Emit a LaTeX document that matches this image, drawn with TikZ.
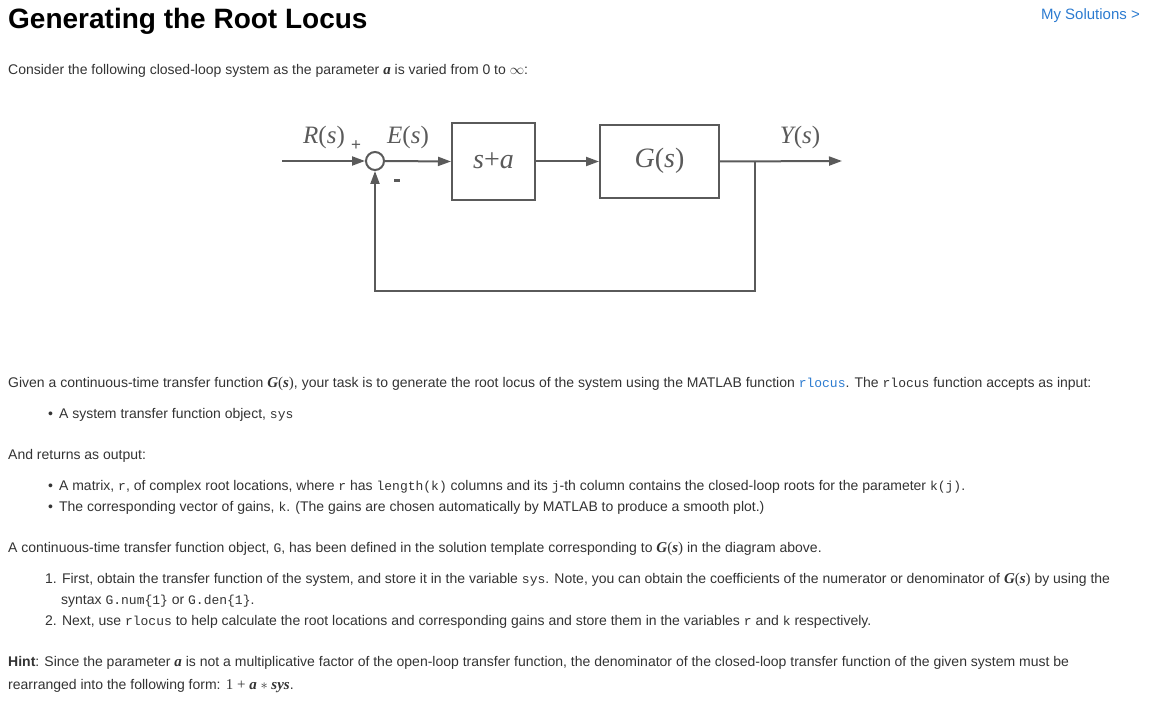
\documentclass[tikz,border=0pt]{standalone}
\usepackage{fontspec}
\setmainfont{Liberation Sans}
\setmonofont{Liberation Mono}
\newfontfamily\serf{Liberation Serif}
\usetikzlibrary{arrows.meta}
\definecolor{txt}{HTML}{333333}
\definecolor{dg}{HTML}{5A5A5A}
\definecolor{lnk}{HTML}{2C7BD0}
\newcommand{\cd}[1]{{\fontsize{13}{15}\ttfamily #1}}
\newcommand{\bl}[1]{{\fontsize{13}{15}\ttfamily\color{lnk}#1}}
\newcommand{\mi}[1]{{\fontsize{15}{16}\serf\itshape\bfseries #1}}
\newcommand{\mr}[1]{{\fontsize{15}{16}\serf #1}}
\begin{document}
\begin{tikzpicture}[x=1pt,y=-1pt,
  body/.style={anchor=west,inner sep=0pt,text=txt,font=\fontsize{14}{16}\selectfont},
  blk/.style={draw=dg,line width=2pt,inner sep=0pt},
  wire/.style={draw=dg,line width=2pt},
  arr/.style={wire,-{Triangle[length=13pt,width=9pt]}},
  dlab/.style={inner sep=0pt,text=dg,font=\fontsize{26}{28}\serf}]
\useasboundingbox (0,0) rectangle (1165,706);
\node[body,font=\fontsize{28}{32}\bfseries,text=black] (title) at (8,21) {Generating the Root Locus};
\node[anchor=east,inner sep=0pt,text=lnk,font=\fontsize{15}{17}\selectfont] (mysol) at (1140,16) {My Solutions \textgreater};
\node[body] (t1) at (8,71) {Consider the following closed-loop system as the parameter \mi{a} is varied from 0 to $\infty$:};
% diagram
\node[circle,draw=dg,line width=2pt,minimum size=18pt,inner sep=0pt] (sum) at (375,161) {};
\node[blk,minimum width=83pt,minimum height=77pt] (b1) at (493.5,161.5) {};
\node[dlab,font=\fontsize{28}{30}\serf\itshape] (b1t) at (493.5,161) {s\upshape+\itshape a};
\node[blk,minimum width=119pt,minimum height=73pt] (b2) at (659.5,161.5) {};
\node[dlab,font=\fontsize{28}{30}\serf\itshape] (b2t) at (659.5,161) {G\upshape(\itshape s\upshape)};
\coordinate (in) at (282,161);
\coordinate (br) at (755,161);
\coordinate (out) at (842,161);
\coordinate (fb1) at (755,291);
\coordinate (fb2) at (375,291);
\draw[arr] (in) -- (sum.west);
\draw[arr] (sum.east) -- (b1.west);
\draw[arr] (b1.east) -- (b2.west);
\draw[arr] (b2.east) -- (out);
\draw[arr] (br) -- (fb1) -- (fb2) -- (sum.south);
\node[dlab,font=\fontsize{25}{28}\serf\itshape] (R) at (324,137) {R\upshape(\itshape s\upshape)};
\node[dlab,font=\fontsize{25}{28}\serf\itshape] (E) at (408,137) {E\upshape(\itshape s\upshape)};
\node[dlab,font=\fontsize{25}{28}\serf\itshape] (Y) at (800,137) {Y\upshape(\itshape s\upshape)};
\node[inner sep=0pt,text=dg,font=\fontsize{17}{18}\selectfont] (plus) at (356,146) {+};
\node[fill=dg,inner sep=0pt,minimum width=6pt,minimum height=3pt] (minus) at (397,181) {};
% text
\node[body] (t2) at (8,384) {Given a continuous-time transfer function \mi{G}\mr{(}\mi{s}\mr{)}, your task is to generate the root locus of the system using the MATLAB function \bl{rlocus}. The \cd{rlocus} function accepts as input:};
\node[body] (t3) at (48,415) {\textbullet\hspace{6pt}A system transfer function object, \cd{sys}};
\node[body] (t4) at (8,456) {And returns as output:};
\node[body] (t5) at (48,487) {\textbullet\hspace{6pt}A matrix, \cd{r}, of complex root locations, where \cd{r} has \cd{length(k)} columns and its \cd{j}-th column contains the closed-loop roots for the parameter \cd{k(j)}.};
\node[body] (t6) at (48,508) {\textbullet\hspace{6pt}The corresponding vector of gains, \cd{k}. (The gains are chosen automatically by MATLAB to produce a smooth plot.)};
\node[body] (t7) at (8,549) {A continuous-time transfer function object, \cd{G}, has been defined in the solution template corresponding to \mi{G}\mr{(}\mi{s}\mr{)} in the diagram above.};
\node[body] (t8) at (45,580) {1. First, obtain the transfer function of the system, and store it in the variable \cd{sys}. Note, you can obtain the coefficients of the numerator or denominator of \mi{G}\mr{(}\mi{s}\mr{)} by using the};
\node[body] (t9) at (61,601) {syntax \cd{G.num\{1\}} or \cd{G.den\{1\}}.};
\node[body] (t10) at (45,622) {2. Next, use \cd{rlocus} to help calculate the root locations and corresponding gains and store them in the variables \cd{r} and \cd{k} respectively.};
\node[body] (t11) at (8,663) {\textbf{Hint}: Since the parameter \mi{a} is not a multiplicative factor of the open-loop transfer function, the denominator of the closed-loop transfer function of the given system must be};
\node[body] (t12) at (8,686) {rearranged into the following form: \mr{1 + }\mi{a}\mr{ $*$ }\mi{sys}.};
\end{tikzpicture}
\end{document}
